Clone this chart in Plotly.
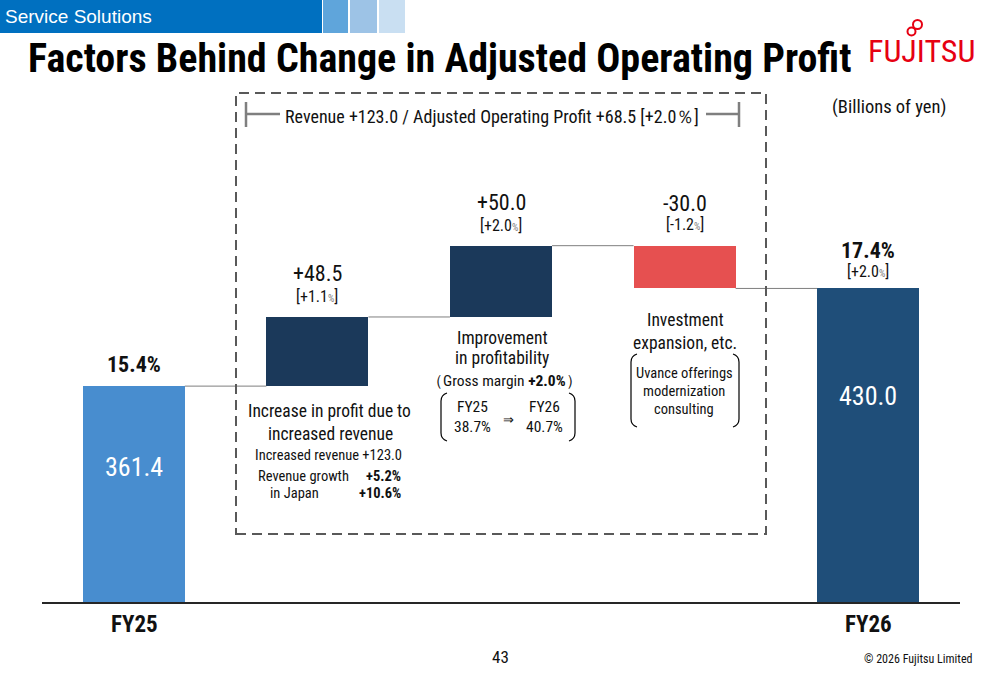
import plotly.graph_objects as go

W, H = 1000, 685

# ---------------- data ----------------
categories = ["FY25", "Increase in profit due to increased revenue", "Improvement in profitability",
              "Investment expansion, etc.", "FY26"]
measures = ["absolute", "relative", "relative", "relative", "total"]
values = [361.4, 48.5, 50.0, -30.0, 430.0]
value_labels = ["361.4", "+48.5", "+50.0", "-30.0", "430.0"]
margin_labels = ["15.4%", "[+1.1%]", "[+2.0%]", "[-1.2%]", "17.4%"]
fy26_margin_change = "[+2.0%]"
bar_colors = ["#488DCF", "#1B395A", "#1B395A", "#E65050", "#1F4E79"]

NARROW = "Roboto Condensed, Liberation Sans, sans-serif"
REG = "Liberation Sans, Arial, sans-serif"
TXT = "#111111"

# compute waterfall bases / tops
bases, heights, tops, levels = [], [], [], []
run = 0.0
for m, v in zip(measures, values):
    if m in ("absolute", "total"):
        bases.append(0.0); heights.append(v); run = v
    else:
        if v >= 0:
            bases.append(run); heights.append(v)
        else:
            bases.append(run + v); heights.append(-v)
        run = run + v
    levels.append(run)
    tops.append(bases[-1] + heights[-1])

xs = list(range(len(values)))
BW = 0.556

fig = go.Figure()
fig.add_trace(go.Bar(x=xs, y=heights, base=bases, width=BW,
                     marker=dict(color=bar_colors, line=dict(width=0)),
                     hoverinfo="skip", showlegend=False))
# connectors
for i in range(len(values) - 1):
    fig.add_trace(go.Scatter(x=[i + BW / 2, i + 1 - BW / 2], y=[levels[i], levels[i]],
                             mode="lines", line=dict(color="#7F7F7F", width=1),
                             hoverinfo="skip", showlegend=False))

fig.update_layout(
    width=W, height=H, margin=dict(l=0, r=0, t=0, b=0),
    paper_bgcolor="white", plot_bgcolor="white",
    xaxis=dict(domain=[42 / W, 960 / W], range=[-0.5, 4.5], showgrid=False, zeroline=False,
               showticklabels=False, ticks="", showline=True, linecolor="#262626", linewidth=1.5),
    yaxis=dict(domain=[1 - 602 / H, 1], range=[210.0, 632.2], visible=False, showgrid=False,
               zeroline=False),
    bargap=0, showlegend=False,
)


def P(px, py):
    return px / W, 1 - py / H


annotations = []


def ann(text, px, py, size, color=TXT, family=NARROW, xanchor="center", yanchor="middle"):
    x, y = P(px, py)
    annotations.append(dict(text=text, x=x, y=y, xref="paper", yref="paper", showarrow=False,
                            xanchor=xanchor, yanchor=yanchor,
                            font=dict(size=size, color=color, family=family)))


def dann(text, i, yval, shift, size, color=TXT, family=NARROW):
    annotations.append(dict(text=text, x=i, y=yval, xref="x", yref="y", showarrow=False,
                            xanchor="center", yanchor="middle", yshift=shift,
                            font=dict(size=size, color=color, family=family)))


def pct_small(s):
    # render the % sign small and grey
    return s.replace("%", "<span style='font-size:10px;color:#808080'>%</span>")


# value labels above the bars
dann("<b>" + margin_labels[0] + "</b>", 0, tops[0], 22, 22)
dann(value_labels[0], 0, tops[0], -81, 26, color="white")
for i in (1, 2):
    dann(value_labels[i], i, tops[i], 43, 22)
    dann(pct_small(margin_labels[i]), i, tops[i], 20, 16)
dann(value_labels[3], 3, tops[3], 42, 22)
dann(pct_small(margin_labels[3]), 3, tops[3], 21, 16)
dann("<b>" + margin_labels[4] + "</b>", 4, tops[4], 38, 22)
dann(pct_small(fy26_margin_change), 4, tops[4], 17, 16)
dann(value_labels[4], 4, tops[4], -108, 26, color="white")

# category labels
ann("<b>FY25</b>", 134, 624, 23)
ann("<b>FY26</b>", 868, 624, 23)

# header
ann("Service Solutions", 3, 17, 19, color="white", family=REG, xanchor="left")
ann("<b>Factors Behind Change in Adjusted Operating Profit</b>", 26, 59, 40, color="#000000",
    xanchor="left")
ann("FUJITSU", 921, 51, 32, color="#E60012", family=NARROW)
ann("(Billions of yen)", 889, 107, 18.5)

# revenue bracket header
ann("Revenue +123.0 / Adjusted Operating Profit +68.5 [+2.0％]", 492, 116, 18)

# left explanation
ann("Increase in profit due to", 329, 411, 17.5)
ann("increased revenue", 330, 434, 17.5)
ann("Increased revenue +123.0", 328, 455, 14.5)
ann("Revenue growth", 256, 476, 14.5, xanchor="left")
ann("<b>+5.2%</b>", 403, 476, 14.5, xanchor="right")
ann("in Japan", 268, 493, 14.5, xanchor="left")
ann("<b>+10.6%</b>", 403, 493, 14.5, xanchor="right")

# middle explanation
ann("Improvement", 502, 338, 17.5)
ann("in profitability", 502, 358, 17.5)
ann("（Gross margin <b>+2.0%</b>）", 504, 381, 15.5)
ann("FY25", 472, 407, 15.5)
ann("38.7%", 472, 427, 15.5)
ann("⇒", 508, 419, 13)
ann("FY26", 544, 407, 15.5)
ann("40.7%", 544, 427, 15.5)

# right explanation
ann("Investment", 685, 320, 17.5)
ann("expansion, etc.", 685, 343, 17.5)
ann("Uvance offerings", 684, 373, 14.5)
ann("modernization", 684, 391, 14.5)
ann("consulting", 684, 409, 14.5)

# footer
ann("43", 500, 657, 17)
ann("© 2026 Fujitsu Limited", 975, 659, 12)
annotations[-1]["xanchor"] = "right"

fig.update_layout(annotations=annotations)

shapes = []


def rect(x0, y0, x1, y1, color):
    a, b = P(x0, y0)
    c, d = P(x1, y1)
    shapes.append(dict(type="rect", xref="paper", yref="paper", x0=a, y0=d, x1=c, y1=b,
                       fillcolor=color, line=dict(width=0), layer="below"))


def line(x0, y0, x1, y1, color="#7F7F7F", width=2.5, dash="solid"):
    a, b = P(x0, y0)
    c, d = P(x1, y1)
    shapes.append(dict(type="line", xref="paper", yref="paper", x0=a, y0=b, x1=c, y1=d,
                       line=dict(color=color, width=width, dash=dash)))


def path(pts_cmds, color="#000000", width=1.2):
    s = ""
    for cmd, coords in pts_cmds:
        s += cmd + " " + " ".join("%.5f,%.5f" % P(px, py) for px, py in coords) + " "
    shapes.append(dict(type="path", xref="paper", yref="paper", path=s.strip(),
                       line=dict(color=color, width=width)))


def lbracket(x, y0, y1, d=6):
    path([("M", [(x + d, y0)]), ("Q", [(x, y0 + 2), (x, y0 + d + 2)]),
          ("L", [(x, y1 - d - 2)]), ("Q", [(x, y1 - 2), (x + d, y1)])])


def rbracket(x, y0, y1, d=6):
    path([("M", [(x - d, y0)]), ("Q", [(x, y0 + 2), (x, y0 + d + 2)]),
          ("L", [(x, y1 - d - 2)]), ("Q", [(x, y1 - 2), (x - d, y1)])])


# header band
rect(0, 0, 322, 33, "#0070C0")
rect(323, 0, 348, 33, "#5FA5DB")
rect(350, 0, 377, 33, "#9DC3E6")
rect(379, 0, 405, 33, "#C9DFF2")

# dashed box
a, b = P(236, 93)
c, d = P(766, 534)
shapes.append(dict(type="rect", xref="paper", yref="paper", x0=a, y0=d, x1=c, y1=b,
                   line=dict(color="#595959", width=2, dash="10px,6px")))

# revenue bracket
line(246, 102, 246, 127)
line(246, 114, 280, 114)
line(706, 114, 739, 114)
line(739, 102, 739, 127)

# parentheses
lbracket(441, 393, 441)
rbracket(575, 393, 441)
lbracket(631, 354, 427)
rbracket(739, 354, 427)

# Fujitsu logo loops
for cx, cy, r in ((917.5, 24.5, 4.5), (911.5, 31.5, 4.0)):
    a, b = P(cx - r, cy - r)
    c, d = P(cx + r, cy + r)
    shapes.append(dict(type="circle", xref="paper", yref="paper", x0=a, y0=d, x1=c, y1=b,
                       line=dict(color="#E60012", width=2)))

fig.update_layout(shapes=shapes)

fig.write_html("out.html")
